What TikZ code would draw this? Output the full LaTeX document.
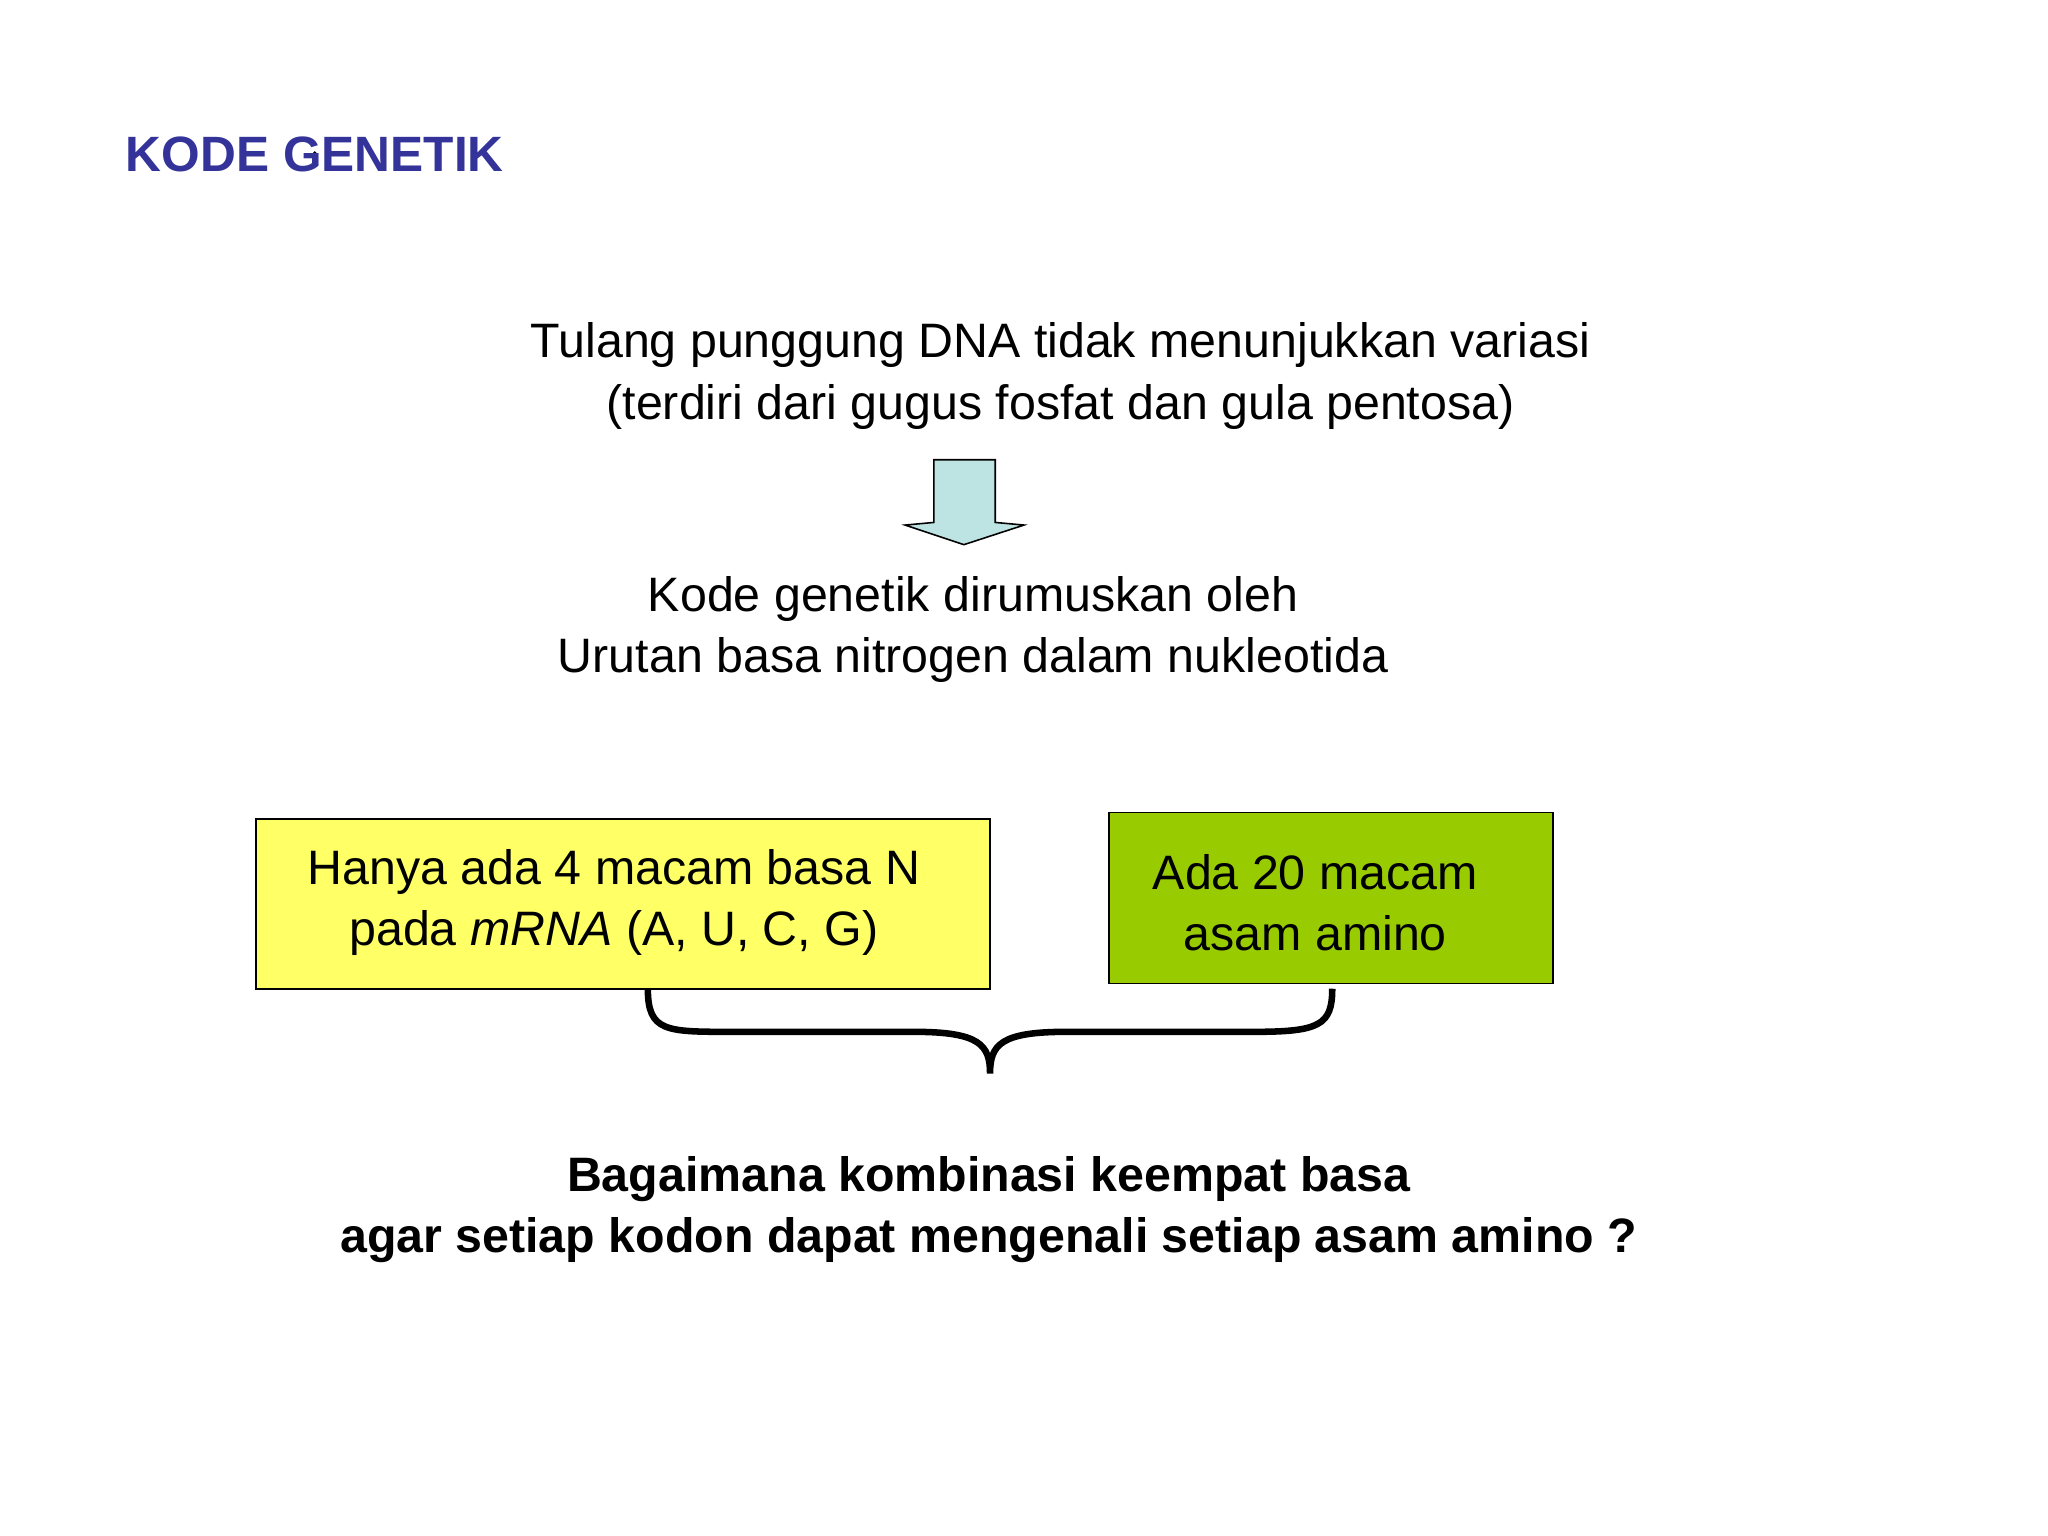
\documentclass[tikz,border=0pt]{standalone}
\usepackage{fontspec}
\setmainfont{Liberation Sans}
\usetikzlibrary{shapes.geometric}
\begin{document}
\begin{tikzpicture}[x=0.5pt,y=-0.5pt,
  txt/.style={font=\fontsize{18.5}{23.5}\selectfont,align=center,inner sep=0},
  bx/.style={draw=black,line width=0.6pt}]
\useasboundingbox (0,0) rectangle (1568,1176);
\fill[white] (0,0) rectangle (1568,1176);
\node[ellipse,draw=black,fill={rgb,255:red,189;green,227;blue,227},line width=0.6pt,minimum width=352\dimexpr0.5pt,minimum height=104\dimexpr0.5pt,inner sep=0] (title) at (241,117) {};
\node[font=\fontsize{19}{23}\selectfont\bfseries,text={rgb,255:red,51;green,51;blue,153}] (tt) at (241,118) {KODE GENETIK};
\node[txt] (t1) at (812,288) {Tulang punggung DNA tidak menunjukkan variasi\\(terdiri dari gugus fosfat dan gula pentosa)};
\draw[bx,fill={rgb,255:red,189;green,227;blue,227}] (715,352) -- (762,352) -- (762,400) -- (784,402) -- (738,417) -- (693,402) -- (715,400) -- cycle;
\node[txt] (t2) at (745,482) {Kode genetik dirumuskan oleh\\Urutan basa nitrogen dalam nukleotida};
\draw[bx,fill={rgb,255:red,255;green,255;blue,102}] (196,627) rectangle (758,757);
\node[txt] (y) at (470,691) {Hanya ada 4 macam basa N\\pada \textit{mRNA} (A, U, C, G)};
\draw[bx,fill={rgb,255:red,153;green,204;blue,0}] (849,622) rectangle (1189,753);
\node[txt] (g) at (1007,691) {Ada 20 macam\\asam amino};
\coordinate (bl) at (496,757); \coordinate (br) at (1020,757); \coordinate (bm) at (758,822);
\draw[line width=2.5pt] (bl) .. controls (496,790) and (510,790) .. (560,790) -- (700,790) .. controls (750,790) and (758,800) .. (bm) .. controls (758,800) and (766,790) .. (816,790) -- (960,790) .. controls (1010,790) and (1020,785) .. (br);
\node[txt,font=\fontsize{18.5}{23.5}\selectfont\bfseries] (q) at (757,926) {Bagaimana kombinasi keempat basa\\agar setiap kodon dapat mengenali setiap asam amino ?};
\end{tikzpicture}
\end{document}
